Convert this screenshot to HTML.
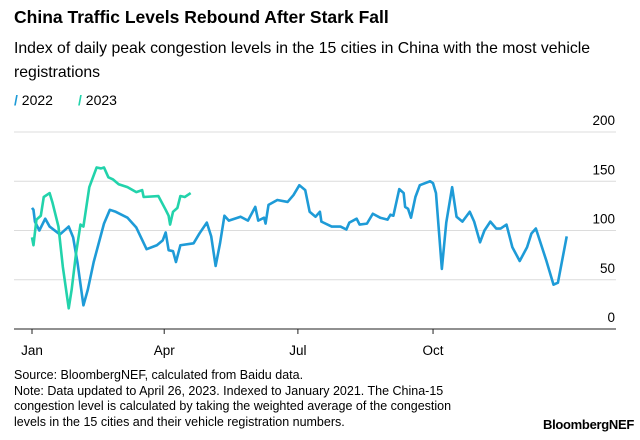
<!DOCTYPE html>
<html><head><meta charset="utf-8"><style>
body{margin:0;width:640px;height:440px;background:#fff;font-family:"Liberation Sans",sans-serif;color:#000;position:relative;overflow:hidden}
.t{position:absolute;white-space:nowrap}
</style></head><body>
<div class="t" style="left:14px;top:7px;font-size:17.5px;font-weight:bold">China Traffic Levels Rebound After Stark Fall</div>
<div class="t" style="left:14px;top:37px;font-size:15.8px;line-height:24px;white-space:normal;width:620px">Index of daily peak congestion levels in the 15 cities in China with the most vehicle registrations</div>
<div class="t" style="left:14px;top:92px;font-size:14px"><span style="color:#1e9bd7;font-weight:bold">/</span> 2022</div>
<div class="t" style="left:78px;top:92px;font-size:14px"><span style="color:#22d3ab;font-weight:bold">/</span> 2023</div>
<svg id="chart" width="640" height="440" style="position:absolute;left:0;top:0"></svg>
<div class="t" style="left:14px;top:368px;font-size:12.5px;line-height:15.5px">Source: BloombergNEF, calculated from Baidu data.<br>Note: Data updated to April 26, 2023. Indexed to January 2021. The China-15<br>congestion level is calculated by taking the weighted average of the congestion<br>levels in the 15 cities and their vehicle registration numbers.</div>
<div class="t" style="right:6px;top:417px;font-size:13px;font-weight:bold;letter-spacing:-0.3px">BloombergNEF</div>
<script>
const yTicks=[0,50,100,150,200];
const xTickDays=[0,90,181,273];
const xTickLabels=["Jan","Apr","Jul","Oct"];
const days2022=[0,1,2,5,9,12,19,25,28,31,35,38,42,49,53,57,65,71,78,85,89,91,93,96,98,101,110,114,119,122,125,128,131,134,142,147,152,154,158,159,161,167,174,178,182,186,189,193,196,197,204,210,214,216,221,223,228,232,237,242,244,246,250,253,254,256,258,261,264,271,273,275,279,282,286,289,293,298,301,305,308,312,316,319,323,327,332,337,340,343,350,355,358,364];
const vals2022=[123,121,109,100,112,104,96,104,93,67,24,40,68,107,121,119,113,103,81,85,90,98,80,79,68,85,87,97,108,94,64,87,115,110,114,110,124,110,113,107,126,131,129,136,146,141,119,114,119,109,104,104,101,108,112,106,107,117,113,111,116,115,142,138,124,122,113,134,146,150,148,138,61,108,144,114,109,119,109,88,100,109,102,102,106,83,69,83,97,102,70,45,47,94];
const days2023=[0,1,3,6,8,12,14,18,21,25,27,30,33,35,39,44,47,49,52,55,59,65,71,75,76,86,91,93,94,96,99,101,104,108];
const vals2023=[93,85,111,115,134,138,128,104,63,21,40,77,106,104,144,164,163,164,154,152,147,144,139,141,134,135,121,115,106,119,123,135,134,138];
const NS="http://www.w3.org/2000/svg";
const svg=document.getElementById('chart');
const X=d=>32+d*1.469, Y=v=>329-v*0.985;
function mk(t,a){const e=document.createElementNS(NS,t);for(const k in a)e.setAttribute(k,a[k]);svg.appendChild(e);return e;}
yTicks.forEach(v=>{
 if(v>0){const g=mk('line',{x1:14,x2:616,y1:Y(v),y2:Y(v),stroke:'#dcdcdc','stroke-width':1});
 
 }
 const t=mk('text',{x:615,y:Y(v)-7,'text-anchor':'end','font-size':13.5,fill:'#000','font-family':'Liberation Sans, sans-serif'});
 t.textContent=v;
 
 
});
const ax=mk('line',{x1:14,x2:616,y1:329,y2:329,stroke:'#222','stroke-width':1});


xTickDays.forEach((d,i)=>{
 const k=mk('line',{x1:X(d),x2:X(d),y1:329,y2:334,stroke:'#222'});
 
 
 const t=mk('text',{x:X(d),y:355,'text-anchor':'middle','font-size':13.5,fill:'#000','font-family':'Liberation Sans, sans-serif'});
 t.textContent=xTickLabels[i];
 
 
});
function line(ds,vs,c,n){
 const p=mk('polyline',{points:ds.map((d,i)=>X(d)+','+Y(vs[i])).join(' '),fill:'none',stroke:c,'stroke-width':2.6,'stroke-linejoin':'round'});
 
 
}
line(days2022,vals2022,'#1e9bd7','series-2022-line');
line(days2023,vals2023,'#22d3ab','series-2023-line');
</script>
</body></html>
